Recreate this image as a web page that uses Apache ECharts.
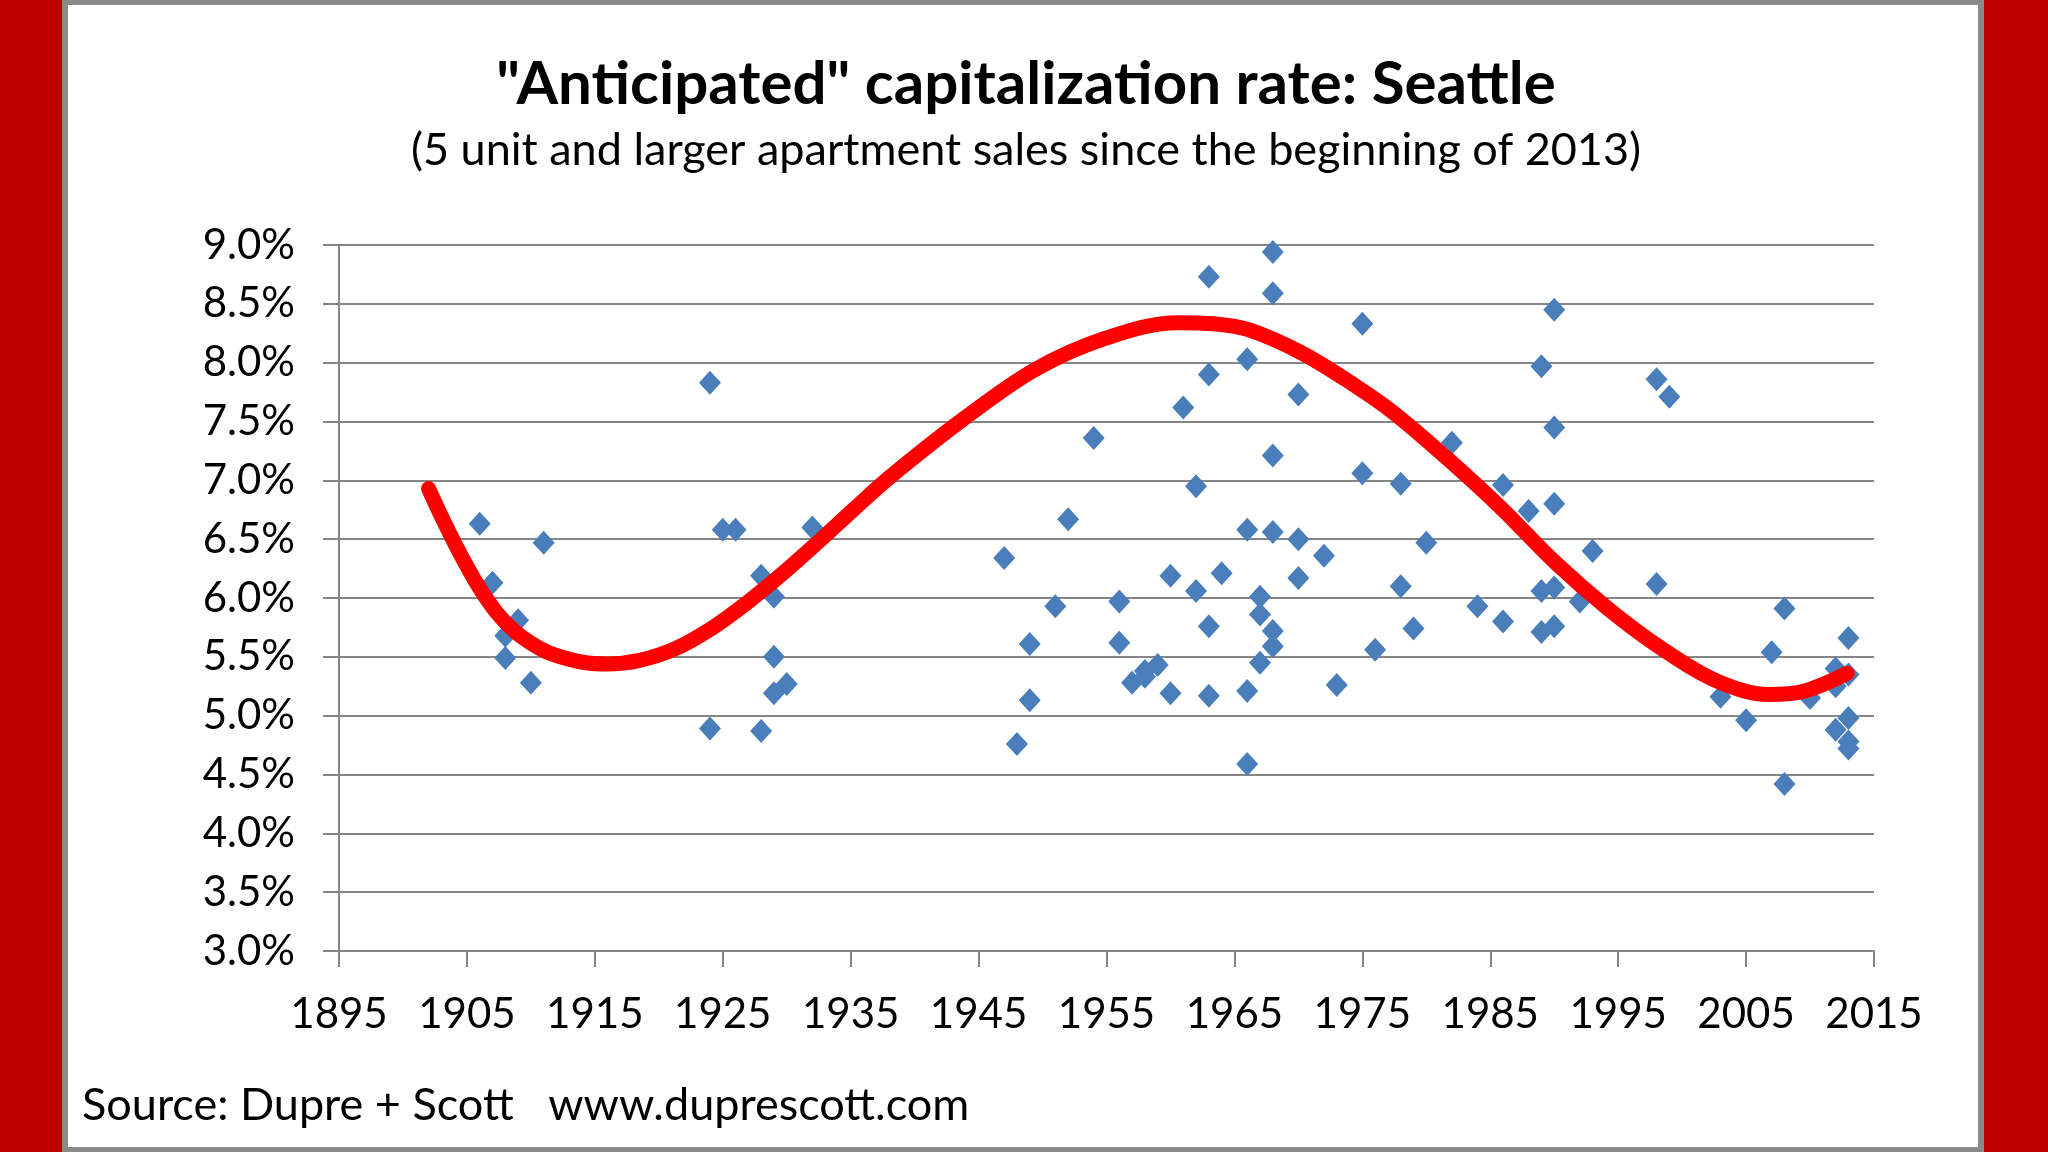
<!DOCTYPE html>
<html>
<head>
<meta charset="utf-8">
<title>Anticipated capitalization rate: Seattle</title>
<script src="https://cdn.jsdelivr.net/npm/echarts@6/dist/echarts.min.js"></script>
<style>
  html, body { margin: 0; padding: 0; background: #ffffff; }
  #chart { width: 2048px; height: 1152px; }
</style>
</head>
<body>
<div id="chart"></div>
<script>
// year built and anticipated cap rate (%) for each sale
var saleYears = [
  1906, 1907, 1908, 1908, 1909, 1910, 1911,
  1924, 1924, 1925, 1926, 1928, 1928, 1929, 1929, 1929, 1930, 1932,
  1947, 1948, 1949, 1949, 1951, 1952, 1954, 1956, 1956, 1957, 1958, 1958, 1959,
  1960, 1960, 1961, 1962, 1962, 1963, 1963, 1963, 1963, 1964,
  1966, 1966, 1966, 1966, 1967, 1967, 1967, 1968, 1968, 1968, 1968, 1968, 1968,
  1970, 1970, 1970, 1972, 1973, 1975, 1975, 1976, 1978, 1978, 1979, 1980, 1982, 1984, 1986, 1986, 1988,
  1989, 1989, 1989, 1990, 1990, 1990, 1990, 1990, 1992, 1993, 1998, 1998, 1999,
  2003, 2005, 2007, 2008, 2008, 2010, 2012, 2012, 2012, 2013, 2013, 2013, 2013, 2013
];
var capRates = [
  6.63, 6.13, 5.68, 5.49, 5.81, 5.28, 6.47,
  7.83, 4.89, 6.58, 6.58, 6.19, 4.87, 6.01, 5.50, 5.19, 5.27, 6.60,
  6.34, 4.76, 5.61, 5.13, 5.93, 6.67, 7.36, 5.97, 5.62, 5.28, 5.33, 5.38, 5.43,
  6.19, 5.19, 7.62, 6.95, 6.06, 8.73, 7.90, 5.76, 5.17, 6.21,
  8.03, 6.58, 5.21, 4.59, 6.01, 5.86, 5.45, 8.94, 8.59, 7.21, 6.56, 5.72, 5.59,
  7.73, 6.50, 6.17, 6.36, 5.26, 8.33, 7.06, 5.56, 6.97, 6.10, 5.74, 6.47, 7.32, 5.93, 6.96, 5.80, 6.74,
  7.97, 6.06, 5.71, 8.45, 7.45, 6.80, 6.09, 5.76, 5.97, 6.40, 7.86, 6.12, 7.71,
  5.16, 4.96, 5.54, 5.91, 4.42, 5.15, 5.40, 5.25, 4.88, 5.66, 5.35, 4.98, 4.78, 4.72
];

// red trend line
var trendYears = [
  1902, 1903.2, 1904.5, 1905.9, 1907.3, 1908.7, 1910.1, 1911.5, 1914.3, 1916,
  1918.5, 1921.3, 1924.1, 1926.9, 1929.7, 1932.5, 1935.3, 1938.2, 1943.8, 1949.4,
  1955, 1960.6, 1963.4, 1966.1, 1970.3, 1974.5, 1977.5, 1981.7, 1985.9, 1990,
  1994.2, 1998.4, 2002.6, 2006.8, 2009.6, 2012.9
];
var trendRates = [
  6.93, 6.65, 6.37, 6.10, 5.88, 5.72, 5.61, 5.53, 5.45, 5.44,
  5.47, 5.57, 5.74, 5.96, 6.21, 6.48, 6.76, 7.04, 7.52, 7.94,
  8.21, 8.34, 8.33, 8.28, 8.08, 7.80, 7.57, 7.18, 6.76, 6.31,
  5.91, 5.57, 5.30, 5.18, 5.21, 5.36
];

var xTicks = { min: 1895, max: 2015, step: 10 };
var yTicks = { min: 3, max: 9, step: 0.5 };

var titleText = '"Anticipated" capitalization rate: Seattle';
var subtitleText = '(5 unit and larger apartment sales since the beginning of 2013)';
var sourceText = 'Source: Dupre + Scott   www.duprescott.com';

var textFont = 'Lato';

var chart = echarts.init(document.getElementById('chart'));

var option = {
  backgroundColor: '#ffffff',
  animation: false,
  graphic: [
    // red side bands and gray frame
    { type: 'rect', shape: { x: 0, y: 0, width: 62, height: 1152 }, style: { fill: '#c00000' } },
    { type: 'rect', shape: { x: 1984, y: 0, width: 64, height: 1152 }, style: { fill: '#c00000' } },
    { type: 'rect', shape: { x: 62, y: 0, width: 6, height: 1152 }, style: { fill: '#8a8a8a' } },
    { type: 'rect', shape: { x: 1978, y: 0, width: 6, height: 1152 }, style: { fill: '#8a8a8a' } },
    { type: 'rect', shape: { x: 62, y: 0, width: 1922, height: 5 }, style: { fill: '#8a8a8a' } },
    { type: 'rect', shape: { x: 62, y: 1147, width: 1922, height: 5 }, style: { fill: '#8a8a8a' } }
  ],
  title: [
    {
      text: titleText,
      left: 1021,
      top: 50,
      textAlign: 'center',
      textStyle: { fontFamily: textFont, fontWeight: 'bold', fontSize: 60, color: '#000000' }
    },
    {
      text: subtitleText,
      left: 1021,
      top: 123,
      textAlign: 'center',
      textStyle: { fontFamily: textFont, fontWeight: 'normal', fontSize: 45, color: '#000000' }
    },
    {
      text: sourceText,
      left: 77,
      top: 1078,
      textStyle: { fontFamily: textFont, fontWeight: 'normal', fontSize: 45, color: '#000000' }
    }
  ],
  grid: {
    left: 339,
    right: 174,
    top: 245,
    bottom: 201,
    containLabel: false
  },
  xAxis: {
    type: 'value',
    min: xTicks.min,
    max: xTicks.max,
    interval: xTicks.step,
    axisLine: { show: true, onZero: false, lineStyle: { color: '#868686', width: 2 } },
    axisTick: { show: true, length: 16, lineStyle: { color: '#868686', width: 2 } },
    splitLine: { show: false },
    axisLabel: {
      margin: 42,
      fontFamily: textFont,
      fontSize: 42,
      color: '#000000',
      formatter: function (v) { return String(v); }
    }
  },
  yAxis: {
    type: 'value',
    min: yTicks.min,
    max: yTicks.max,
    interval: yTicks.step,
    axisLine: { show: true, lineStyle: { color: '#868686', width: 2 } },
    axisTick: { show: true, length: 16, lineStyle: { color: '#868686', width: 2 } },
    splitLine: { show: true, lineStyle: { color: '#868686', width: 2 } },
    axisLabel: {
      margin: 44,
      fontFamily: textFont,
      fontSize: 42,
      color: '#000000',
      formatter: function (v) { return v.toFixed(1) + '%'; }
    }
  },
  series: [
    {
      name: 'Sales',
      type: 'scatter',
      symbol: 'diamond',
      symbolSize: [22, 24],
      itemStyle: { color: '#4a7ebb', opacity: 1 },
      data: saleYears.map(function (y, i) { return [y, capRates[i]]; }),
      z: 2
    },
    {
      name: 'Trend',
      type: 'line',
      smooth: 0.35,
      showSymbol: false,
      lineStyle: { color: '#ff0000', width: 15, cap: 'round', join: 'round' },
      data: trendYears.map(function (y, i) { return [y, trendRates[i]]; }),
      z: 3
    }
  ]
};

chart.setOption(option);
</script>
</body>
</html>
